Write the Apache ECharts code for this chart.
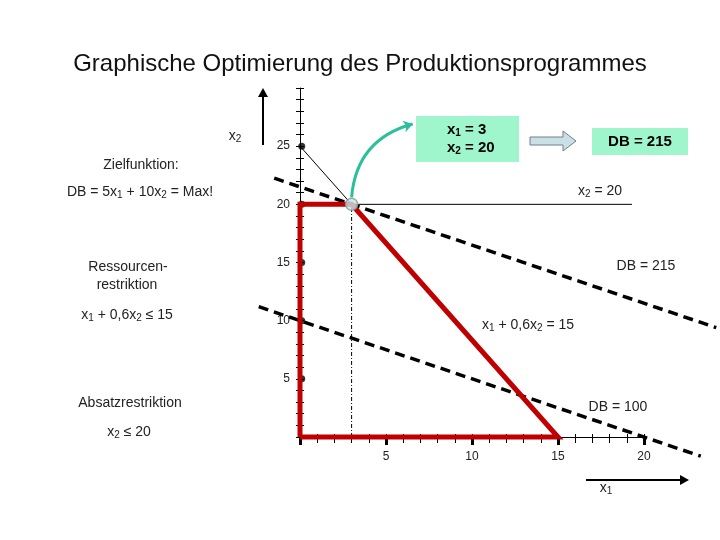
<!DOCTYPE html>
<html>
<head>
<meta charset="utf-8">
<script src="https://cdn.jsdelivr.net/npm/echarts@6/dist/echarts.min.js"></script>
<style>html,body{margin:0;padding:0;background:#fff}#main{width:720px;height:540px}</style>
</head>
<body>
<div id="main"></div>
<script>
// zulässiger Bereich (x1, x2)
var regionX = [0, 0, 3, 15, 0];
var regionY = [0, 20, 20, 0, 0];
// Isogewinnlinien DB = 215 und DB = 100
var db215X = [-1.5, 24.2];
var db215Y = [22.25, 9.4];
var db100X = [-2.4, 23.3];
var db100Y = [11.2, -1.65];
// Absatzrestriktion x2 = 20
var absatzX = [0, 19.3];
var absatzY = [20, 20];
// Lot vom Optimum auf x1
var lotX = [3, 3];
var lotY = [0, 20];
// Hilfslinie von (0,25) zum Optimum
var hilfX = [0, 3];
var hilfY = [25, 20];
var punkteY = [5, 10, 15, 20, 25];
var optimum = [3, 20];
var pfeilStart = [3, 20.6];
var pfeilEnde = [6.55, 26.9];

var FONT = 'Liberation Sans, Arial, sans-serif';

function zip(xs, ys) {
	var out = [];
	for (var i = 0; i < xs.length; i++) out.push([xs[i], ys[i]]);
	return out;
}

var subRich = {
	s: { fontSize: 10, fontFamily: FONT, fill: '#222', padding: [7, 0, 0, 0] },
	sb: { fontSize: 10, fontFamily: FONT, fontWeight: 'bold', fill: '#000', padding: [7, 0, 0, 0] }
};

function txt(x, y, text, size, opts) {
	opts = opts || {};
	return {
		type: 'text', x: x, y: y, z: 10,
		style: {
			text: text,
			fontSize: size,
			fontFamily: FONT,
			fontWeight: opts.bold ? 'bold' : 'normal',
			fill: opts.color || '#222',
			align: opts.align || 'center',
			verticalAlign: 'middle',
			rich: subRich
		}
	};
}

var myChart = echarts.init(document.getElementById('main'));

var tickAxisX = function(extra) {
	return Object.assign({
		type: 'value', min: 0, max: 20, interval: 1, position: 'bottom', gridIndex: 0,
		splitLine: { show: false },
		axisLine: { show: false },
		axisLabel: { show: false }
	}, extra);
};
var tickAxisY = function(extra) {
	return Object.assign({
		type: 'value', min: 0, max: 30, interval: 1, position: 'left', gridIndex: 0,
		splitLine: { show: false },
		axisLine: { show: false },
		axisLabel: { show: false }
	}, extra);
};

// Zeichengitter: gleicher Maßstab wie die Achsen, aber größerer Bereich
var D = { xAxisIndex: 3, yAxisIndex: 2 };
function ser(o) { return Object.assign({}, D, o); }

myChart.setOption({
	animation: false,
	backgroundColor: '#fff',
	grid: [
		{ left: 300, top: 88, width: 344, height: 349 },
		{ left: 248.4, top: 88, width: 471.28, height: 395.53 }
	],
	xAxis: [
		tickAxisX({
			axisLine: { show: true, lineStyle: { color: '#000', width: 1 } },
			axisTick: { length: 6, lineStyle: { color: '#000' } },
			axisLabel: {
				margin: 14, color: '#222', fontSize: 12, fontFamily: FONT,
				formatter: function(v) { return (v > 0 && v % 5 === 0) ? String(v) : ''; }
			}
		}),
		tickAxisX({ axisTick: { inside: true, length: 3, lineStyle: { color: '#000' } } }),
		tickAxisX({ interval: 5, axisTick: { length: 8, lineStyle: { color: '#000', width: 3 } } }),
		{ type: 'value', gridIndex: 1, min: -3, max: 24.4, show: false }
	],
	yAxis: [
		tickAxisY({
			axisLine: { show: true, lineStyle: { color: '#000', width: 1 } },
			axisTick: { length: 4, lineStyle: { color: '#000' } },
			axisLabel: {
				margin: 10, color: '#222', fontSize: 12, fontFamily: FONT,
				formatter: function(v) { return (v > 0 && v % 5 === 0 && v < 30) ? String(v) : ''; }
			}
		}),
		tickAxisY({ axisTick: { inside: true, length: 4, lineStyle: { color: '#000' } } }),
		{ type: 'value', gridIndex: 1, min: -4, max: 30, show: false }
	],
	series: [
		ser({
			type: 'line', data: zip(hilfX, hilfY), symbol: 'none',
			lineStyle: { color: '#000', width: 1 }
		}),
		ser({
			type: 'line', data: zip(db215X, db215Y), symbol: 'none',
			lineStyle: { color: '#000', width: 3.5, type: [10, 6] }
		}),
		ser({
			type: 'line', data: zip(db100X, db100Y), symbol: 'none',
			lineStyle: { color: '#000', width: 3.5, type: [10, 6] }
		}),
		ser({
			type: 'line', data: zip(absatzX, absatzY), symbol: 'none',
			lineStyle: { color: '#000', width: 1 }
		}),
		ser({
			type: 'line', data: zip(lotX, lotY), symbol: 'none',
			lineStyle: { color: '#000', width: 1, type: [4, 2, 1, 2] }
		}),
		ser({
			type: 'scatter', data: punkteY.map(function(v) { return [0.1, v]; }),
			symbolSize: 7, itemStyle: { color: '#000' }
		}),
		ser({
			type: 'line', data: zip(regionX, regionY), symbol: 'none',
			lineStyle: { color: '#c00000', width: 5, join: 'miter' }
		}),
		ser({
			type: 'lines', coordinateSystem: 'cartesian2d', z: 5,
			data: [{ coords: [pfeilStart, pfeilEnde] }],
			symbol: ['none', 'arrow'], symbolSize: 9,
			lineStyle: { color: '#2bbf9c', width: 3, curveness: 0.35, opacity: 1 }
		}),
		ser({
			type: 'scatter', data: [optimum], symbolSize: 12, z: 6,
			itemStyle: { color: '#c6e6e6', borderColor: '#8a9a9a', borderWidth: 1.5 }
		})
	],
	graphic: [
		txt(360, 64, 'Graphische Optimierung des Produktionsprogrammes', 24, { color: '#111' }),
		// Lösungsbox
		{ type: 'rect', shape: { x: 416, y: 116, width: 103, height: 46 }, style: { fill: '#9ff5cc' } },
		txt(447, 130, 'x{sb|1} = 3', 15, { bold: true, align: 'left', color: '#000' }),
		txt(447, 148, 'x{sb|2} = 20', 15, { bold: true, align: 'left', color: '#000' }),
		// Blockpfeil
		{
			type: 'polygon', z: 10,
			shape: { points: [[530, 137], [563, 137], [563, 131], [576, 141], [563, 151], [563, 145], [530, 145]] },
			style: { fill: '#cadfe6', stroke: '#6f8088', lineWidth: 1 }
		},
		{ type: 'rect', shape: { x: 592, y: 128, width: 96, height: 27 }, style: { fill: '#9ff5cc' } },
		txt(640, 142, 'DB = 215', 15, { bold: true, color: '#000' }),
		// Beschriftungen im Diagramm
		txt(600, 191, 'x{s|2} = 20', 14),
		txt(646, 266, 'DB = 215', 14),
		txt(528, 325, 'x{s|1} + 0,6x{s|2} = 15', 14),
		txt(618, 407, 'DB = 100', 14),
		txt(235, 136, 'x{s|2}', 14),
		txt(606, 488, 'x{s|1}', 14),
		// Achsenpfeile
		{ type: 'line', shape: { x1: 263, y1: 145, x2: 263, y2: 96 }, style: { stroke: '#000', lineWidth: 2 } },
		{ type: 'polygon', shape: { points: [[258, 97], [263, 88], [268, 97]] }, style: { fill: '#000' } },
		{ type: 'line', shape: { x1: 586, y1: 480, x2: 681, y2: 480 }, style: { stroke: '#000', lineWidth: 2 } },
		{ type: 'polygon', shape: { points: [[680, 475], [689, 480], [680, 485]] }, style: { fill: '#000' } },
		// linke Texte
		txt(141, 165, 'Zielfunktion:', 14),
		txt(140, 192, 'DB = 5x{s|1} + 10x{s|2} = Max!', 14),
		txt(128, 267, 'Ressourcen-', 14),
		txt(127, 285, 'restriktion', 14),
		txt(127, 315, 'x{s|1} + 0,6x{s|2} ≤ 15', 14),
		txt(130, 403, 'Absatzrestriktion', 14),
		txt(129, 432, 'x{s|2} ≤ 20', 14)
	]
});
</script>
</body>
</html>
